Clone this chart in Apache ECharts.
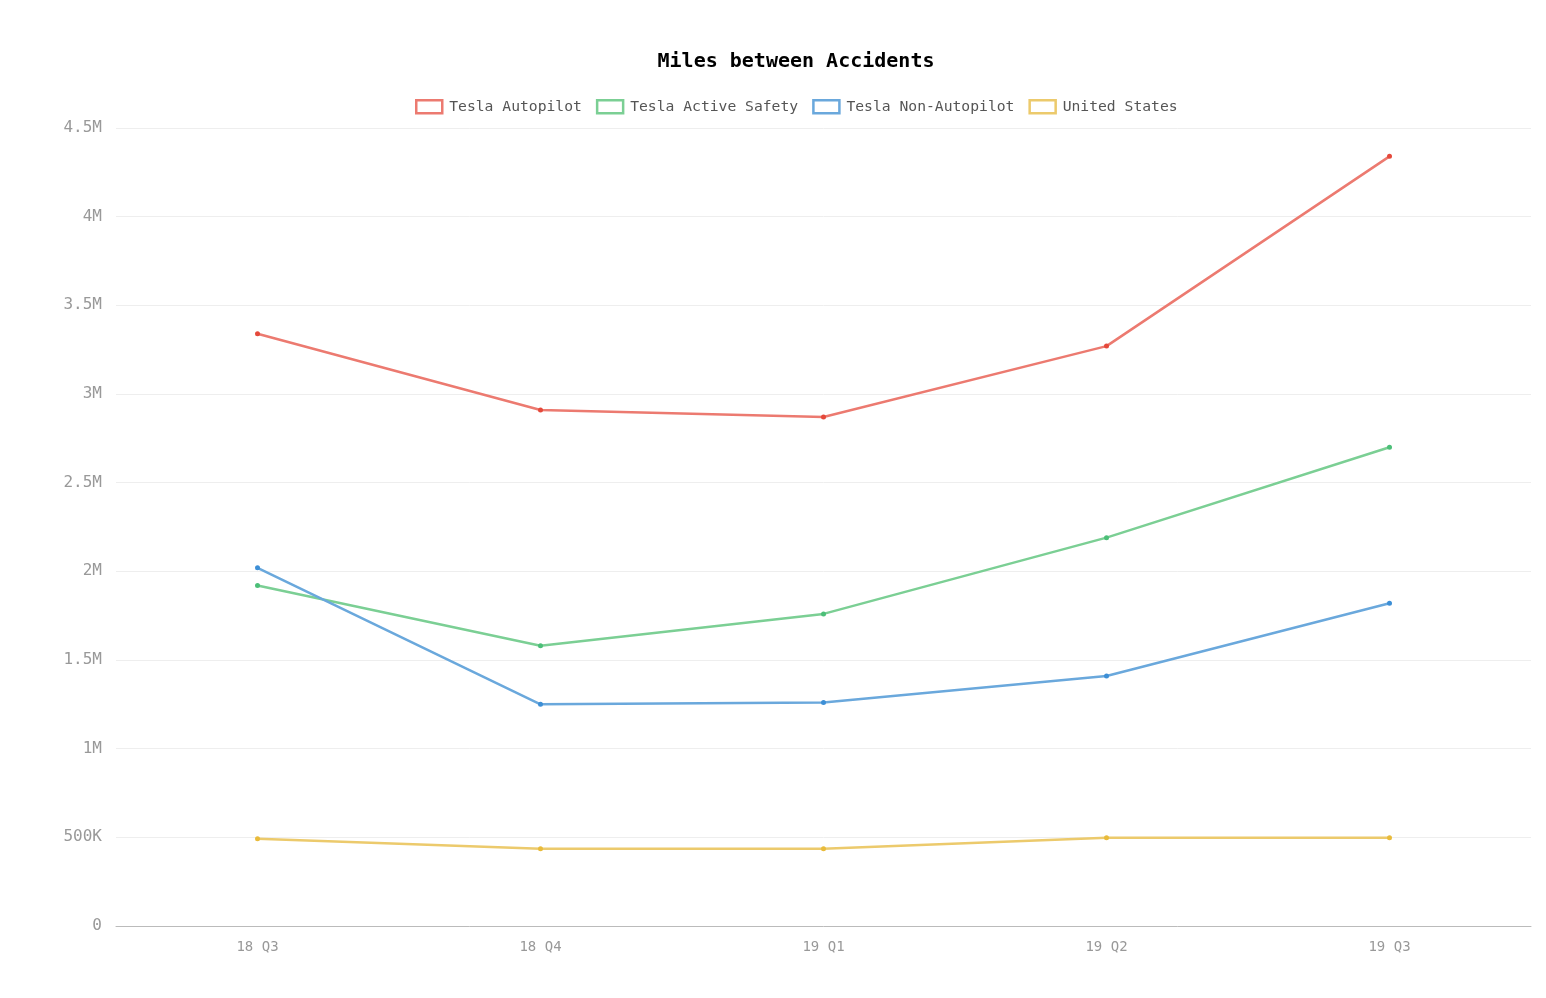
<!DOCTYPE html>
<html><head><meta charset="utf-8">
<script src="https://cdn.jsdelivr.net/npm/echarts@6/dist/echarts.min.js"></script>
<style>html,body{margin:0;padding:0;background:#fff}#c{width:1546px;height:998px}</style>
</head><body><div id="c"></div>
<script>
const categories = ['18 Q3', '18 Q4', '19 Q1', '19 Q2', '19 Q3'];
const teslaAutopilot = [3340000, 2910000, 2870000, 3270000, 4340000];
const teslaActiveSafety = [1920000, 1580000, 1760000, 2190000, 2700000];
const teslaNonAutopilot = [2020000, 1250000, 1260000, 1410000, 1820000];
const unitedStates = [492000, 436000, 436000, 498000, 498000];
const seriesNames = ['Tesla Autopilot', 'Tesla Active Safety', 'Tesla Non-Autopilot', 'United States'];
const colors = ['#e5493b', '#4cbf78', '#3d8fd6', '#e9bb3b'];
const lineColors = ['#ec7a70', '#7bcf94', '#6aa8dc', '#ecca6c'];
const allData = [teslaAutopilot, teslaActiveSafety, teslaNonAutopilot, unitedStates];
const font = "'DejaVu Sans Mono', monospace";

const chart = echarts.init(document.getElementById('c'));
chart.setOption({
  animation: false,
  backgroundColor: '#fff',
  title: {
    text: 'Miles between Accidents', left: 791, textAlign: 'center', top: 47,
    textStyle: { fontFamily: font, fontSize: 20, fontWeight: 'bold', color: '#000' }
  },
  legend: {
    top: 94, left: 410, itemWidth: 26, itemHeight: 13, itemGap: 14,
    textStyle: { fontFamily: font, fontSize: 14.7, color: '#555', padding: [0, 0, 0, 2] },
    data: seriesNames.map((n, i) => ({
      name: n, icon: 'rect',
      itemStyle: { color: '#fff', borderColor: lineColors[i], borderWidth: 2.5 }
    }))
  },
  grid: { left: 116, right: 15, top: 128, bottom: 72, containLabel: false },
  xAxis: {
    type: 'category', data: categories, boundaryGap: true,
    axisLine: { lineStyle: { color: '#bbb' } },
    axisTick: { show: false },
    axisLabel: { fontFamily: font, fontSize: 14, color: '#999', margin: 14 }
  },
  yAxis: {
    type: 'value', min: 0, max: 4500000, interval: 500000,
    axisLine: { show: false }, axisTick: { show: false },
    splitLine: { lineStyle: { color: '#eee' } },
    axisLabel: {
      fontFamily: font, fontSize: 16, color: '#999', margin: 14,
      formatter: v => v === 0 ? '0' : (v >= 1000000 ? (v / 1000000) + 'M' : (v / 1000) + 'K')
    }
  },
  series: seriesNames.map((n, i) => ({
    name: n, type: 'line', data: allData[i],
    symbol: 'circle', symbolSize: 5, showSymbol: true,
    itemStyle: { color: colors[i] },
    lineStyle: { color: lineColors[i], width: 2.5 }
  }))
});
</script></body></html>
